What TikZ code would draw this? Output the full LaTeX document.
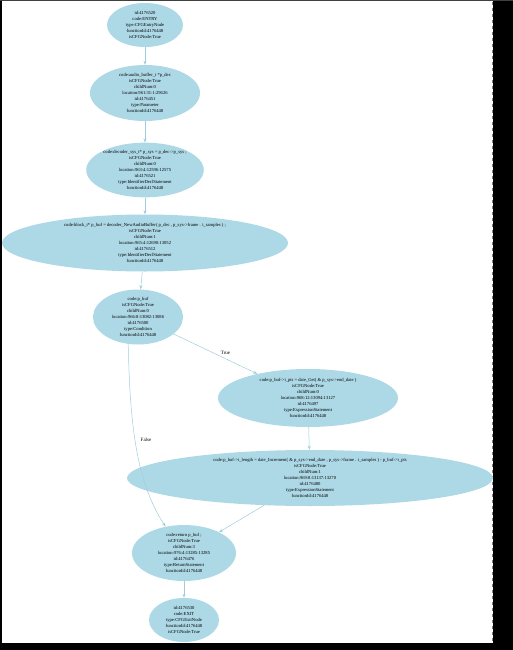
\documentclass[tikz,border=0pt]{standalone}
\usepackage{fontspec}
\setmainfont{Liberation Serif}
\usetikzlibrary{arrows.meta,shapes.geometric}
\definecolor{lb}{RGB}{173,216,230}
\definecolor{edgec}{RGB}{160,205,222}
\begin{document}
\begin{tikzpicture}[x=1pt,y=-1pt,
  cfg/.style={ellipse, fill=lb, draw=none, inner sep=0pt, align=center,
    font=\fontsize{4.6}{5.9}\selectfont},
  conn/.style={draw=edgec, line width=0.5pt, -{Stealth[length=4pt,width=3pt]}},
  elab/.style={font=\fontsize{5}{6}\selectfont, inner sep=1pt}]
\useasboundingbox (0,0) rectangle (513,650);
\fill[white] (0,0) rectangle (513,650);
\fill[black] (493,0) rectangle (513,650);
\fill[black] (0,643) rectangle (513,650);
\fill[black] (0,0) rectangle (2,650);
\fill[black!75] (0,0) rectangle (513,1.5);
\draw[gray, dashed, line width=0.4pt] (492.5,2) -- (492.5,643);

\node[cfg, minimum width=76, minimum height=44] (n1) at (145,25)
 {id:4176520\\code:ENTRY\\type:CFGEntryNode\\functionId:4176448\\isCFGNode:True};
\node[cfg, minimum width=110, minimum height=56] (n2) at (145,93)
 {code:audio\_buffer\_t *p\_dec\\isCFGNode:True\\childNum:0\\location:961:31:1:29626\\id:4176451\\type:Parameter\\functionId:4176448};
\node[cfg, minimum width=116, minimum height=54] (n3) at (145,170)
 {code:decoder\_sys\_t* p\_sys = p\_dec->p\_sys ;\\isCFGNode:True\\childNum:0\\location:963:4:12596:12575\\id:4176521\\type:IdentifierDeclStatement\\functionId:4176448};
\node[cfg, minimum width=286, minimum height=57] (n4) at (145,243)
 {code:block\_t* p\_buf = decoder\_NewAudioBuffer( p\_dec , p\_sys->frame . i\_samples ) ;\\isCFGNode:True\\childNum:1\\location:965:4:12690:13052\\id:4176512\\type:IdentifierDeclStatement\\functionId:4176448};
\node[cfg, minimum width=90, minimum height=55] (n5) at (138,317)
 {code:p\_buf\\isCFGNode:True\\childNum:0\\location:966:8:13082:13086\\id:4176500\\type:Condition\\functionId:4176448};
\node[cfg, minimum width=180, minimum height=58] (n6) at (308,398)
 {code:p\_buf->i\_pts = date\_Get( \& p\_sys->end\_date )\\isCFGNode:True\\childNum:0\\location:968:12:13094:13127\\id:4176497\\type:ExpressionStatement\\functionId:4176448};
\node[cfg, minimum width=366, minimum height=56] (n7) at (310,478)
 {code:p\_buf->i\_length = date\_Increment( \& p\_sys->end\_date , p\_sys->frame . i\_samples ) - p\_buf->i\_pts\\isCFGNode:True\\childNum:1\\location:969:8:13137:13270\\id:4176480\\type:ExpressionStatement\\functionId:4176448};
\node[cfg, minimum width=104, minimum height=56] (n8) at (184,553)
 {code:return p\_buf ;\\isCFGNode:True\\childNum:3\\location:976:4:13285:13285\\id:4176476\\type:ReturnStatement\\functionId:4176448};
\node[cfg, minimum width=70, minimum height=44] (n9) at (184,620)
 {id:4176530\\code:EXIT\\type:CFGExitNode\\functionId:4176448\\isCFGNode:True};

\draw[conn] (n1) -- (n2);
\draw[conn] (n2) -- (n3);
\draw[conn] (n3) -- (n4);
\draw[conn] (n4) -- (n5);
\draw[conn] (n5) -- node[elab, pos=0.55, above right, text=black] {True} (n6);
\draw[conn] (n5.250) .. controls (130,420) and (135,480) .. (n8.125);
\node[elab] (lf) at (146,440) {False};
\draw[conn] (n6) -- (n7);
\draw[conn] (n7) -- (n8);
\draw[conn] (n8) -- (n9);
\end{tikzpicture}
\end{document}
